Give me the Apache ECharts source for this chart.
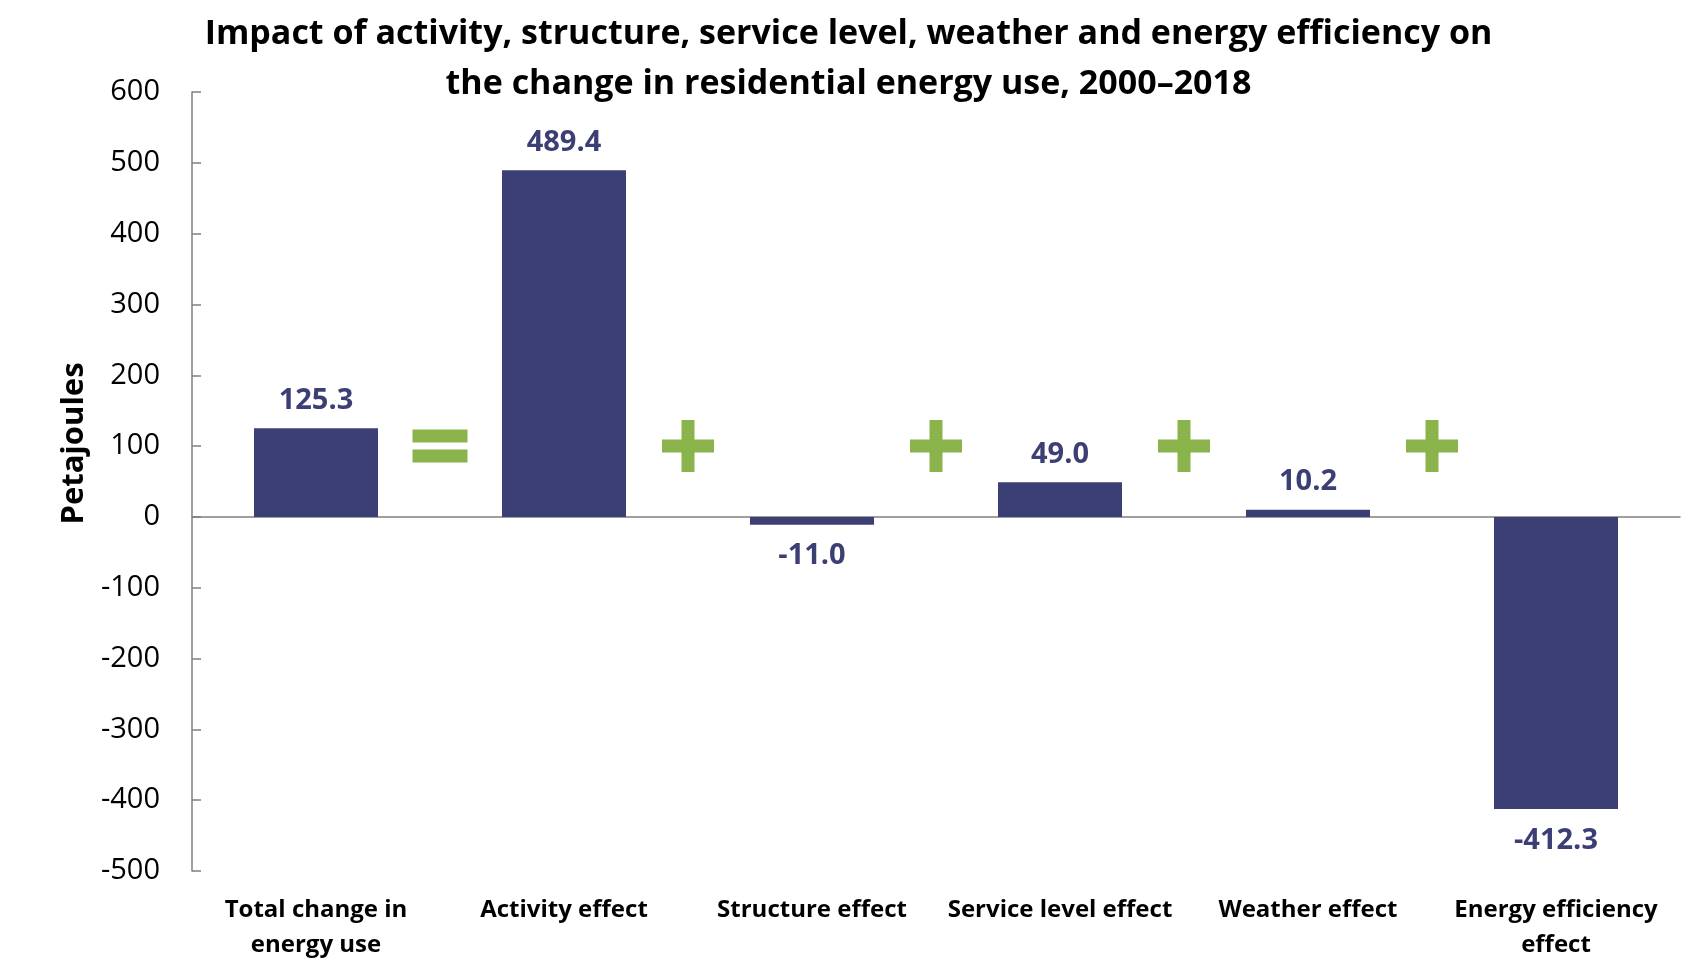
<!DOCTYPE html>
<html>
<head>
<meta charset="utf-8">
<script src="https://cdn.jsdelivr.net/npm/echarts@6/dist/echarts.min.js"></script>
<style>
  html, body { margin: 0; padding: 0; background: #fff; }
  #main { width: 1697px; height: 966px; }
</style>
</head>
<body>
<div id="main"></div>
<script>
var myChart = echarts.init(document.getElementById('main'));

// categories and values (petajoules)
var categories = ['Total change in\nenergy use', 'Activity effect', 'Structure effect',
    'Service level effect', 'Weather effect', 'Energy efficiency\neffect'];
var values = [125.3, 489.4, -11.0, 49.0, 10.2, -412.3];

// the = and + signs sit between the bars, at about 100 PJ
var operators = ['=', '+', '+', '+', '+'];
var operatorLevel = 100;

var font = '"Open Sans", sans-serif';
var barColor = '#3c3f74';
var signColor = '#8ab44b';
var axisGrey = '#808080';

var plusPath = 'path://M7.5,0H12.5V7.5H20V12.5H12.5V20H7.5V12.5H0V7.5H7.5Z';
var equalsPath = 'path://M0,0H55V13H0Z M0,20H55V33H0Z';

var barData = values.map(function (v) {
    return {
        value: v,
        label: v < 0 ? { position: 'bottom', distance: 17 } : { position: 'top', distance: 13 }
    };
});

var signData = operators.map(function (op, i) {
    return {
        value: [i + 0.5, operatorLevel],
        symbol: op === '=' ? equalsPath : plusPath,
        symbolSize: op === '=' ? [55, 33] : [52, 52]
    };
});

option = {
    backgroundColor: '#fff',
    title: {
        text: 'Impact of activity, structure, service level, weather and energy efficiency on\nthe change in residential energy use, 2000\u20132018',
        left: 'center',
        top: 4,
        textStyle: {
            fontFamily: font,
            fontWeight: 'bold',
            fontSize: 34,
            lineHeight: 50,
            color: '#000'
        }
    },
    grid: {
        left: 192,
        right: 17,
        top: 92,
        bottom: 95
    },
    xAxis: [
        {
            // axis line through zero, with ticks between the bars
            type: 'category',
            data: categories,
            axisLine: { onZero: true, lineStyle: { color: axisGrey, width: 1.5 } },
            axisTick: { inside: true, length: 8, lineStyle: { color: axisGrey, width: 1.5 } },
            axisLabel: { show: false },
            splitLine: { show: false }
        },
        {
            // category names at the bottom
            type: 'category',
            data: categories,
            position: 'bottom',
            axisLine: { show: false, onZero: false },
            axisTick: { show: false },
            axisLabel: {
                margin: 22,
                fontFamily: font,
                fontWeight: 'bold',
                fontSize: 24,
                lineHeight: 35,
                color: '#000',
                interval: 0
            }
        },
        {
            type: 'value',
            min: -0.5,
            max: 5.5,
            show: false
        }
    ],
    yAxis: {
        type: 'value',
        min: -500,
        max: 600,
        interval: 100,
        name: 'Petajoules',
        nameLocation: 'middle',
        nameRotate: 90,
        nameGap: 100,
        nameTextStyle: {
            fontFamily: font,
            fontWeight: 'bold',
            fontSize: 31,
            color: '#000',
            padding: [0, 0, 0, 76]
        },
        axisLine: { show: true, onZero: false, lineStyle: { color: axisGrey, width: 1.5 } },
        axisTick: { show: true, inside: true, length: 9, lineStyle: { color: axisGrey, width: 1.5 } },
        axisLabel: {
            margin: 32,
            fontFamily: font,
            fontSize: 29,
            color: '#000'
        },
        splitLine: { show: false }
    },
    series: [
        {
            name: 'Effect',
            type: 'bar',
            xAxisIndex: 0,
            data: barData,
            barWidth: '50%',
            itemStyle: { color: barColor },
            label: {
                show: true,
                fontFamily: font,
                fontWeight: 'bold',
                fontSize: 29,
                color: barColor,
                formatter: function (p) { return p.value.toFixed(1); }
            }
        },
        {
            name: 'Signs',
            type: 'scatter',
            xAxisIndex: 2,
            data: signData,
            itemStyle: { color: signColor, opacity: 1 },
            silent: true,
            z: 3
        }
    ]
};

myChart.setOption(option);
</script>
</body>
</html>
